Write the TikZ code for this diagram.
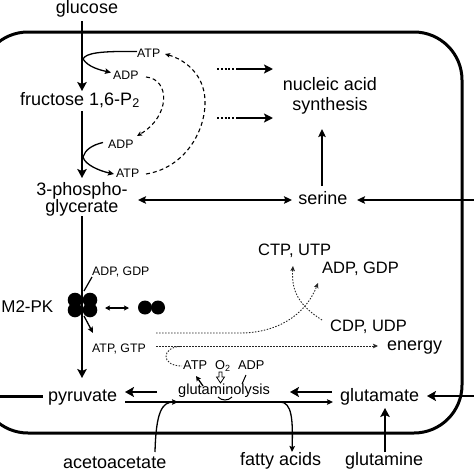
\documentclass[tikz,border=0pt]{standalone}
\usepackage{fontspec}
\setmainfont{Liberation Sans}
\usetikzlibrary{arrows.meta}
\begin{document}
\begin{tikzpicture}[x=1pt,y=-1pt,
  big/.style={font=\fontsize{18}{17}\selectfont,inner sep=0pt,anchor=base west},
  mid/.style={font=\fontsize{16.5}{18}\selectfont,inner sep=0pt,anchor=base west},
  sm/.style={font=\fontsize{12.3}{14}\selectfont,inner sep=0pt,anchor=base west},
  gsm/.style={font=\fontsize{12.8}{14}\selectfont,inner sep=0pt,anchor=base west},
  glu/.style={font=\fontsize{14.6}{16}\selectfont,inner sep=0pt,anchor=base west},
  mainarr/.style={line width=2.4pt,-{Stealth[length=9pt,width=9.5pt,inset=2pt]}},
  thickarr/.style={line width=2.8pt,-{Stealth[length=9pt,width=10pt,inset=2pt]}},
  medarr/.style={line width=1.8pt,-{Stealth[length=8pt,width=7.5pt,inset=1.5pt]}},
  thinarr/.style={line width=1.3pt,-{Stealth[length=6pt,width=5.5pt,inset=1pt]}},
  thinline/.style={line width=1.3pt},
  dashline/.style={line width=1.1pt,dash pattern=on 4pt off 3pt},
  dotline/.style={line width=0.9pt,dash pattern=on 1.5pt off 1.5pt,black!85},
  smallhead/.style={-{Stealth[length=5pt,width=4.5pt,inset=1pt]}}
]
\useasboundingbox (0,0) rectangle (474,474);
\clip (0,0) rectangle (474,474);

% cell
\draw[line width=3pt,rounded corners=48pt] (-20,32) rectangle (462,433);

% texts
\node[big,anchor=base] (glucose) at (87,13) {glucose};
\node[big] (fructose) at (20,105) {fructose 1,6-P\textsubscript{2}};
\node[big,anchor=base] (pga) at (82,195) {3-phospho-};
\node[big,anchor=base] (pgb) at (82,212) {glycerate};
\node[big,anchor=base] (nucleic) at (330,90) {nucleic acid};
\node[big,anchor=base] (synth) at (330,110) {synthesis};
\node[big,anchor=base] (serine) at (323,204) {serine};
\node[big,anchor=base east,font=\fontsize{17}{17}\selectfont] (m2pk) at (53.5,312) {M2-PK};
\node[big] (pyruvate) at (48,401) {pyruvate};
\node[big] (glutamate) at (340,401) {glutamate};
\node[big] (glutamine) at (345,465) {glutamine};
\node[big] (aceto) at (63,468) {acetoacetate};
\node[big] (fatty) at (240,465) {fatty acids};
\node[big] (energy) at (387,350) {energy};
\node[mid] (cdp) at (330,331) {CDP, UDP};
\node[mid] (ctp) at (258,255) {CTP, UTP};
\node[mid] (adpgdpB) at (322,273) {ADP, GDP};
\node[sm] (atpgtp) at (92,352) {ATP, GTP};
\node[sm] (adpgdp) at (92,275) {ADP, GDP};
\node[sm] (atp1) at (137,57) {ATP};
\node[sm] (adp1) at (113,79) {ADP};
\node[sm] (adp2) at (108,148) {ADP};
\node[sm] (atp2) at (116,177) {ATP};
\node[gsm] (atpg) at (183,369) {ATP};
\node[gsm] (o2) at (215,369) {O\textsubscript{2}};
\node[gsm] (adpg) at (238,369) {ADP};
\node[glu] (glutaminolysis) at (178,394) {glutaminolysis};

% main glycolysis line
\coordinate (m0) at (82,21);
\coordinate (m1) at (82,91);
\coordinate (m2) at (82,111);
\coordinate (m3) at (82,178);
\coordinate (m4) at (82,216);
\coordinate (m5) at (82,378);
\draw[mainarr] (m0) -- (m1);
\draw[mainarr] (m2) -- (m3);
\draw[mainarr] (m4) -- (m5);

% ATP / ADP side reactions
\coordinate (s1) at (83,59);
\coordinate (s2) at (83,157);
\draw[thinline] (s1) .. controls (86,53) and (100,51) .. (atp1.west |- 0,51.5);
\draw[thinarr] (s1) .. controls (88,67) and (100,70) .. (111,72.5);
\draw[thinline] (103,142.5) .. controls (92,145) and (85,150) .. (s2);
\draw[thinarr] (s2) .. controls (85,165) and (100,171) .. (114,174);
\draw[dashline,smallhead] (146,77) .. controls (170,79) and (171,116) .. (137,136);
\draw[dashline,smallhead] (146,174) .. controls (184,168) and (206,132) .. (205,100)
   .. controls (204,75) and (186,60) .. (165,54);

% dotted-to-solid arrows to nucleic acid synthesis
\draw[line width=2.2pt,dash pattern=on 2pt off 1.8pt] (217,69) -- (236,69);
\draw[line width=2.2pt,-{Stealth[length=9pt,width=9pt,inset=2pt]}] (236,69) -- (273,69);
\draw[line width=2.2pt,dash pattern=on 2pt off 1.8pt] (217,118) -- (236,118);
\draw[line width=2.2pt,-{Stealth[length=9pt,width=9pt,inset=2pt]}] (236,118) -- (273,118);

% serine
\coordinate (serT) at (322,186);
\draw[medarr] (serT) -- (322,129);
\draw[line width=1.8pt,{Stealth[length=8pt,width=7.5pt,inset=1.5pt]}-{Stealth[length=8pt,width=7.5pt,inset=1.5pt]}] (138,200) -- (292,200);
\coordinate (serR) at (474,200);
\draw[medarr] (serR) -- (357,200);

% M2-PK
\draw[line width=1.2pt] (92,277) -- (84,291);
\foreach \cx/\cy in {75/300,90/300,75/310,90/310}
  \fill (\cx,\cy) circle[radius=7.3pt];
\draw[line width=1.3pt,{Stealth[length=5pt,width=5pt,inset=1pt]}-{Stealth[length=5pt,width=5pt,inset=1pt]}] (105,308) -- (129,308);
\fill (145,307.5) circle[radius=7pt];
\fill (158,307.5) circle[radius=7pt];
\draw[thinarr] (84,316) -- (93,333);

% dotted energy lines
\draw[dotline,smallhead] (156,333) -- (240,333) .. controls (276,333) and (305,316) .. (318,283);
\draw[dotline,smallhead] (322,320) .. controls (300,306) and (291,292) .. (293,266);
\draw[dotline,smallhead] (156,346) -- (378,346);
\draw[dotline] (180,346.5) .. controls (162,347) and (160,366) .. (182,366);

% glutaminolysis
\draw[line width=1.3pt,-{Stealth[length=5pt,width=5pt,inset=1pt]}] (203,386) -- (196,376);
\draw[line width=0.8pt,fill=white] (219,372) -- (222,372) -- (222,377) -- (224.5,377) -- (220.5,383) -- (216.5,377) -- (219,377) -- cycle;
\draw[line width=1pt] (246,375) -- (242,384);
\draw[line width=1pt] (218,397) .. controls (222,401) and (228,401) .. (232,397);

% pyruvate / glutamate
\draw[thinline,-{Stealth[length=6pt,width=5.5pt,inset=1pt]}] (125,402) -- (333,402);
\draw[thickarr] (157,392) -- (125,392);
\draw[thickarr] (332,392) -- (290,392);
\draw[line width=3pt] (0,396) -- (43,396);
\coordinate (gluR) at (474,396);
\draw[thickarr] (gluR) -- (427,396);
\draw[thinarr] (155,452) .. controls (156,412) and (162,402) .. (178,402);
\draw[thinarr] (280,402) .. controls (292,402) and (293,420) .. (292,452);
\draw[mainarr] (385,452) -- (385,408);
\end{tikzpicture}
\end{document}
